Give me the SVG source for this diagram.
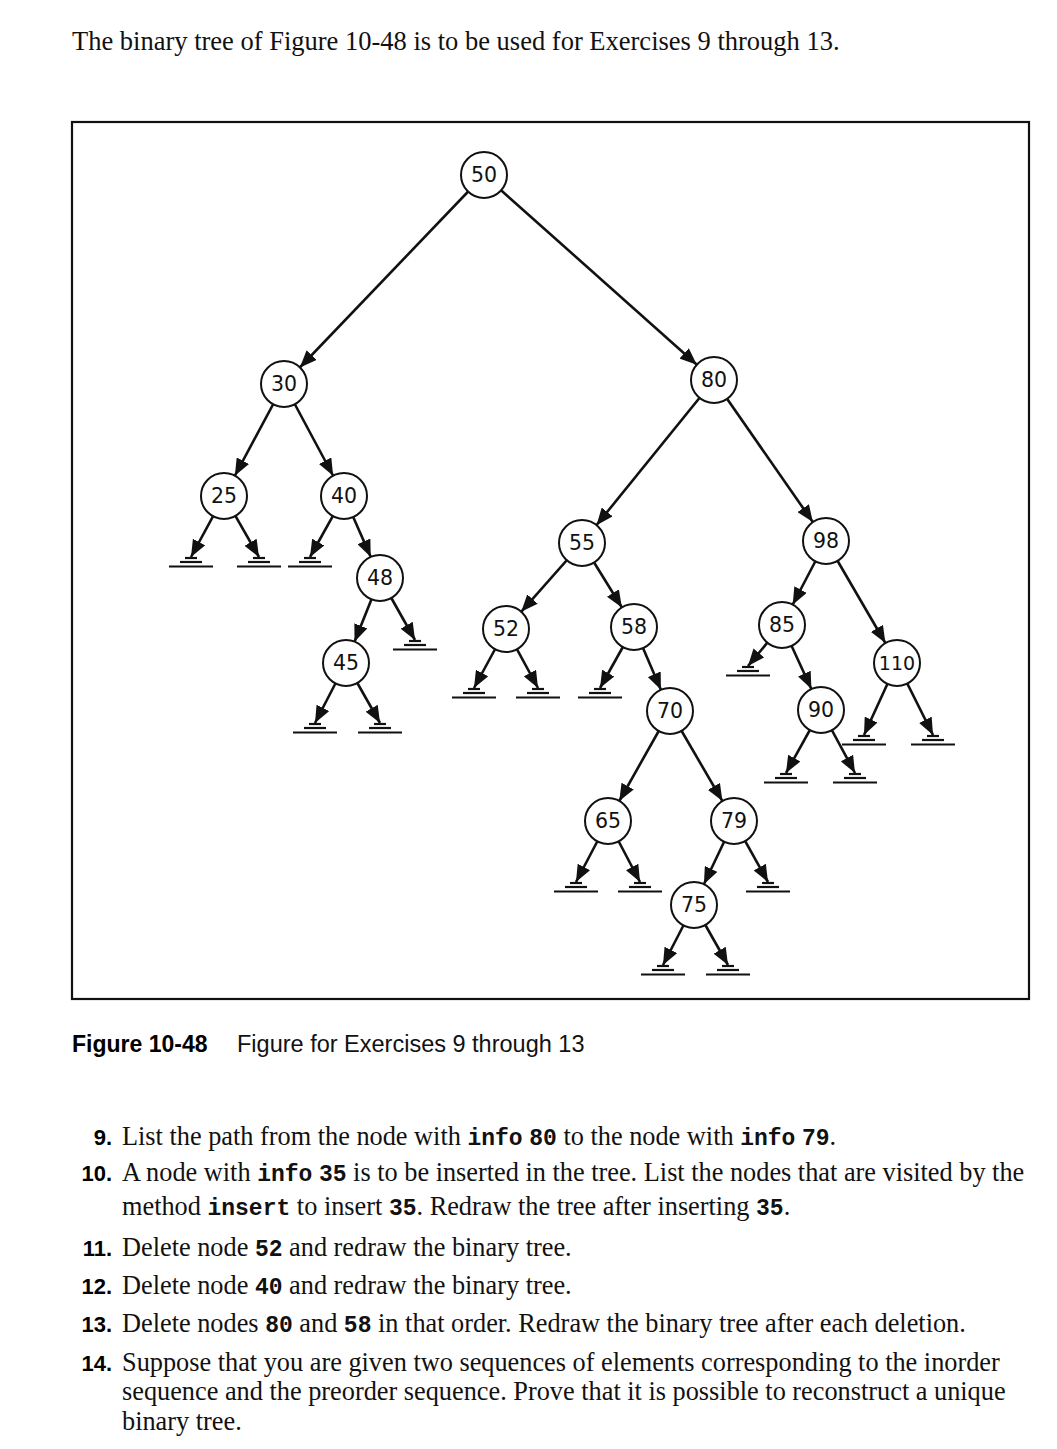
<svg xmlns="http://www.w3.org/2000/svg" width="1057" height="1449" viewBox="0 0 1057 1449">
<style>
.e{stroke:#111;stroke-width:2.6;fill:none;marker-end:url(#an)}
.g{stroke:#111;stroke-width:2.6;fill:none;marker-end:url(#ag)}
.n circle{fill:#fff;stroke:#111;stroke-width:2}
.n text{font-family:"DejaVu Sans",sans-serif;font-size:20.5px;text-anchor:middle;fill:#111}
.gr line{stroke:#111;stroke-width:2.2}
.s{font-family:"Liberation Serif",serif;font-size:26.3px;fill:#111}
.t{font-family:"Liberation Serif",serif;font-size:26.5px;fill:#111}
.m{font-family:"Liberation Mono",monospace;font-weight:bold;font-size:23px}
.b{font-weight:bold;font-family:"Liberation Sans",sans-serif;font-size:22px}
.c{font-family:"Liberation Sans",sans-serif;font-size:23.5px;fill:#111}
</style>
<defs>
<marker id="an" viewBox="0 0 42 14" markerUnits="userSpaceOnUse" markerWidth="42" markerHeight="14" refX="40" refY="7" orient="auto"><path d="M0,0 L17,7 L0,14 z" fill="#111"/></marker>
<marker id="ag" viewBox="0 0 18 14" markerUnits="userSpaceOnUse" markerWidth="18" markerHeight="14" refX="17" refY="7" orient="auto"><path d="M0,0 L17,7 L0,14 z" fill="#111"/></marker>
<g id="gs" class="gr"><line x1="-6" y1="1" x2="6" y2="1"/><line x1="-11" y1="5" x2="11" y2="5"/><line x1="-22" y1="9.5" x2="22" y2="9.5"/></g>
</defs>
<rect width="1057" height="1449" fill="#fff"/>
<text x="72" y="50" class="t">The binary tree of Figure 10-48 is to be used for Exercises 9 through 13.</text>
<rect x="72" y="122" width="957" height="877" fill="none" stroke="#111" stroke-width="2.2"/>
<g id="connectors">
<line class="e" x1="484" y1="175" x2="284" y2="384"/>
<line class="e" x1="484" y1="175" x2="714" y2="380"/>
<line class="e" x1="284" y1="384" x2="224" y2="496"/>
<line class="e" x1="284" y1="384" x2="344" y2="496"/>
<line class="e" x1="344" y1="496" x2="380" y2="578"/>
<line class="e" x1="380" y1="578" x2="346" y2="663"/>
<line class="e" x1="714" y1="380" x2="582" y2="543"/>
<line class="e" x1="714" y1="380" x2="826" y2="541"/>
<line class="e" x1="582" y1="543" x2="506" y2="629"/>
<line class="e" x1="582" y1="543" x2="634" y2="627"/>
<line class="e" x1="634" y1="627" x2="670" y2="711"/>
<line class="e" x1="670" y1="711" x2="608" y2="821"/>
<line class="e" x1="670" y1="711" x2="734" y2="821"/>
<line class="e" x1="734" y1="821" x2="694" y2="905"/>
<line class="e" x1="826" y1="541" x2="782" y2="625"/>
<line class="e" x1="826" y1="541" x2="897" y2="663"/>
<line class="e" x1="782" y1="625" x2="821" y2="710"/>
<line class="g" x1="224" y1="496" x2="191" y2="557"/>
<line class="g" x1="224" y1="496" x2="259" y2="557"/>
<line class="g" x1="344" y1="496" x2="310" y2="557"/>
<line class="g" x1="380" y1="578" x2="415" y2="640"/>
<line class="g" x1="346" y1="663" x2="315" y2="723"/>
<line class="g" x1="346" y1="663" x2="380" y2="723"/>
<line class="g" x1="506" y1="629" x2="474" y2="688"/>
<line class="g" x1="506" y1="629" x2="538" y2="688"/>
<line class="g" x1="634" y1="627" x2="600" y2="688"/>
<line class="g" x1="608" y1="821" x2="576" y2="882"/>
<line class="g" x1="608" y1="821" x2="640" y2="882"/>
<line class="g" x1="734" y1="821" x2="768" y2="882"/>
<line class="g" x1="694" y1="905" x2="663" y2="965"/>
<line class="g" x1="694" y1="905" x2="728" y2="965"/>
<line class="g" x1="782" y1="625" x2="748" y2="666"/>
<line class="g" x1="821" y1="710" x2="786" y2="773"/>
<line class="g" x1="821" y1="710" x2="855" y2="773"/>
<line class="g" x1="897" y1="663" x2="864" y2="735"/>
<line class="g" x1="897" y1="663" x2="933" y2="735"/>
</g>
<g id="grounds">
<use href="#gs" x="191" y="557"/><use href="#gs" x="259" y="557"/><use href="#gs" x="310" y="557"/>
<use href="#gs" x="415" y="640"/><use href="#gs" x="315" y="723"/><use href="#gs" x="380" y="723"/>
<use href="#gs" x="474" y="688"/><use href="#gs" x="538" y="688"/><use href="#gs" x="600" y="688"/>
<use href="#gs" x="576" y="882"/><use href="#gs" x="640" y="882"/><use href="#gs" x="768" y="882"/>
<use href="#gs" x="663" y="965"/><use href="#gs" x="728" y="965"/><use href="#gs" x="748" y="666"/>
<use href="#gs" x="786" y="773"/><use href="#gs" x="855" y="773"/><use href="#gs" x="864" y="735"/>
<use href="#gs" x="933" y="735"/>
</g>
<g id="n50" class="n"><circle cx="484" cy="175" r="23"/><text x="484" y="182">50</text></g>
<g id="n30" class="n"><circle cx="284" cy="384" r="23"/><text x="284" y="391">30</text></g>
<g id="n80" class="n"><circle cx="714" cy="380" r="23"/><text x="714" y="387">80</text></g>
<g id="n25" class="n"><circle cx="224" cy="496" r="23"/><text x="224" y="503">25</text></g>
<g id="n40" class="n"><circle cx="344" cy="496" r="23"/><text x="344" y="503">40</text></g>
<g id="n48" class="n"><circle cx="380" cy="578" r="23"/><text x="380" y="585">48</text></g>
<g id="n45" class="n"><circle cx="346" cy="663" r="23"/><text x="346" y="670">45</text></g>
<g id="n55" class="n"><circle cx="582" cy="543" r="23"/><text x="582" y="550">55</text></g>
<g id="n98" class="n"><circle cx="826" cy="541" r="23"/><text x="826" y="548">98</text></g>
<g id="n52" class="n"><circle cx="506" cy="629" r="23"/><text x="506" y="636">52</text></g>
<g id="n58" class="n"><circle cx="634" cy="627" r="23"/><text x="634" y="634">58</text></g>
<g id="n85" class="n"><circle cx="782" cy="625" r="23"/><text x="782" y="632">85</text></g>
<g id="n110" class="n"><circle cx="897" cy="663" r="23"/><text x="897" y="670" style="font-size:19px">110</text></g>
<g id="n70" class="n"><circle cx="670" cy="711" r="23"/><text x="670" y="718">70</text></g>
<g id="n90" class="n"><circle cx="821" cy="710" r="23"/><text x="821" y="717">90</text></g>
<g id="n65" class="n"><circle cx="608" cy="821" r="23"/><text x="608" y="828">65</text></g>
<g id="n79" class="n"><circle cx="734" cy="821" r="23"/><text x="734" y="828">79</text></g>
<g id="n75" class="n"><circle cx="694" cy="905" r="23"/><text x="694" y="912">75</text></g>
<text x="72" y="1052" class="b" style="font-size:23px">Figure 10-48</text>
<text x="237" y="1052" class="c">Figure for Exercises 9 through 13</text>
<text x="112" y="1145" text-anchor="end" class="b">9.</text>
<text x="122" y="1145" class="s">List the path from the node with <tspan class="m">info</tspan> <tspan class="m">80</tspan> to the node with <tspan class="m">info</tspan> <tspan class="m">79</tspan>.</text>
<text x="112" y="1181" text-anchor="end" class="b">10.</text>
<text x="122" y="1181" class="s">A node with <tspan class="m">info</tspan> <tspan class="m">35</tspan> is to be inserted in the tree. List the nodes that are visited by the</text>
<text x="122" y="1215" class="s">method <tspan class="m">insert</tspan> to insert <tspan class="m">35</tspan>. Redraw the tree after inserting <tspan class="m">35</tspan>.</text>
<text x="112" y="1256" text-anchor="end" class="b">11.</text>
<text x="122" y="1256" class="s">Delete node <tspan class="m">52</tspan> and redraw the binary tree.</text>
<text x="112" y="1294" text-anchor="end" class="b">12.</text>
<text x="122" y="1294" class="s">Delete node <tspan class="m">40</tspan> and redraw the binary tree.</text>
<text x="112" y="1332" text-anchor="end" class="b">13.</text>
<text x="122" y="1332" class="s">Delete nodes <tspan class="m">80</tspan> and <tspan class="m">58</tspan> in that order. Redraw the binary tree after each deletion.</text>
<text x="112" y="1371" text-anchor="end" class="b">14.</text>
<text x="122" y="1371" class="s">Suppose that you are given two sequences of elements corresponding to the inorder</text>
<text x="122" y="1400" class="s">sequence and the preorder sequence. Prove that it is possible to reconstruct a unique</text>
<text x="122" y="1430" class="s">binary tree.</text>
</svg>
